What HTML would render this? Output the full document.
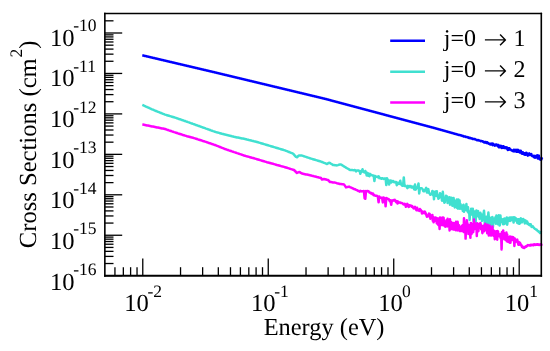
<!DOCTYPE html>
<html><head><meta charset="utf-8"><title>Cross Sections</title>
<style>html,body{margin:0;padding:0;background:#fff}svg{display:block}text{font-family:"Liberation Serif","DejaVu Serif",serif;fill:#000;text-rendering:geometricPrecision}</style></head>
<body>
<svg width="550" height="351" viewBox="0 0 550 351">
<rect x="0" y="0" width="550" height="351" fill="#fff"/>
<g>
<polyline fill="none" stroke="#0000ff" stroke-width="2.5" stroke-linejoin="round" stroke-linecap="butt" points="142.3,55.3 142.8,55.4 143.3,55.5 143.8,55.7 144.3,55.8 144.8,55.9 145.3,56.0 145.8,56.1 146.3,56.2 146.8,56.4 147.3,56.5 147.8,56.6 148.3,56.7 148.8,56.8 149.3,56.9 149.8,57.1 150.3,57.2 150.8,57.3 151.3,57.4 151.8,57.5 152.3,57.7 152.8,57.8 153.3,57.9 153.8,58.0 154.3,58.1 154.8,58.2 155.3,58.4 155.8,58.5 156.3,58.6 156.8,58.7 157.3,58.8 157.8,58.9 158.3,59.1 158.8,59.2 159.3,59.3 159.8,59.4 160.3,59.5 160.8,59.7 161.3,59.8 161.8,59.9 162.3,60.0 162.8,60.1 163.3,60.2 163.8,60.4 164.3,60.5 164.8,60.6 165.3,60.7 165.8,60.8 166.3,60.9 166.8,61.1 167.3,61.2 167.8,61.3 168.3,61.4 168.8,61.5 169.3,61.7 169.8,61.8 170.3,61.9 170.8,62.0 171.3,62.1 171.8,62.2 172.3,62.4 172.8,62.5 173.3,62.6 173.8,62.7 174.3,62.8 174.8,62.9 175.3,63.1 175.8,63.2 176.3,63.3 176.8,63.4 177.3,63.5 177.8,63.7 178.3,63.8 178.8,63.9 179.3,64.0 179.8,64.1 180.3,64.2 180.8,64.4 181.3,64.5 181.8,64.6 182.3,64.7 182.8,64.8 183.3,64.9 183.8,65.1 184.3,65.2 184.8,65.3 185.3,65.4 185.8,65.5 186.3,65.6 186.8,65.8 187.3,65.9 187.8,66.0 188.3,66.1 188.8,66.2 189.3,66.4 189.8,66.5 190.3,66.6 190.8,66.7 191.3,66.8 191.8,66.9 192.3,67.1 192.8,67.2 193.3,67.3 193.8,67.4 194.3,67.5 194.8,67.6 195.3,67.8 195.8,67.9 196.3,68.0 196.8,68.1 197.3,68.2 197.8,68.4 198.3,68.5 198.8,68.6 199.3,68.7 199.8,68.8 200.3,68.9 200.8,69.1 201.3,69.2 201.8,69.3 202.3,69.4 202.8,69.5 203.3,69.6 203.8,69.8 204.3,69.9 204.8,70.0 205.3,70.1 205.8,70.2 206.3,70.4 206.8,70.5 207.3,70.6 207.8,70.7 208.3,70.8 208.8,70.9 209.3,71.1 209.8,71.2 210.3,71.3 210.8,71.4 211.3,71.5 211.8,71.6 212.3,71.8 212.8,71.9 213.3,72.0 213.8,72.1 214.3,72.2 214.8,72.4 215.3,72.5 215.8,72.6 216.3,72.7 216.8,72.8 217.3,73.0 217.8,73.1 218.3,73.2 218.8,73.3 219.3,73.4 219.8,73.6 220.3,73.7 220.8,73.8 221.3,73.9 221.8,74.0 222.3,74.2 222.8,74.3 223.3,74.4 223.8,74.5 224.3,74.6 224.8,74.8 225.3,74.9 225.8,75.0 226.3,75.1 226.8,75.2 227.3,75.4 227.8,75.5 228.3,75.6 228.8,75.7 229.3,75.8 229.8,76.0 230.3,76.1 230.8,76.2 231.3,76.3 231.8,76.4 232.3,76.6 232.8,76.7 233.3,76.8 233.8,76.9 234.3,77.0 234.8,77.2 235.3,77.3 235.8,77.4 236.3,77.5 236.8,77.6 237.3,77.8 237.8,77.9 238.3,78.0 238.8,78.1 239.3,78.2 239.8,78.4 240.3,78.5 240.8,78.6 241.3,78.7 241.8,78.8 242.3,79.0 242.8,79.1 243.3,79.2 243.8,79.3 244.3,79.4 244.8,79.6 245.3,79.7 245.8,79.8 246.3,79.9 246.8,80.0 247.3,80.2 247.8,80.3 248.3,80.4 248.8,80.5 249.3,80.6 249.8,80.8 250.3,80.9 250.8,81.0 251.3,81.1 251.8,81.2 252.3,81.4 252.8,81.5 253.3,81.6 253.8,81.7 254.3,81.8 254.8,82.0 255.3,82.1 255.8,82.2 256.3,82.3 256.8,82.4 257.3,82.6 257.8,82.7 258.3,82.8 258.8,82.9 259.3,83.0 259.8,83.2 260.3,83.3 260.8,83.4 261.3,83.5 261.8,83.6 262.3,83.8 262.8,83.9 263.3,84.0 263.8,84.1 264.3,84.2 264.8,84.4 265.3,84.5 265.8,84.6 266.3,84.7 266.8,84.8 267.3,85.0 267.8,85.1 268.3,85.2 268.8,85.3 269.3,85.4 269.8,85.6 270.3,85.7 270.8,85.8 271.3,85.9 271.8,86.0 272.3,86.2 272.8,86.3 273.3,86.4 273.8,86.5 274.3,86.6 274.8,86.8 275.3,86.9 275.8,87.0 276.3,87.1 276.8,87.2 277.3,87.4 277.8,87.5 278.3,87.6 278.8,87.7 279.3,87.8 279.8,88.0 280.3,88.1 280.8,88.2 281.3,88.3 281.8,88.4 282.3,88.6 282.8,88.7 283.3,88.8 283.8,88.9 284.3,89.0 284.8,89.2 285.3,89.3 285.8,89.4 286.3,89.5 286.8,89.6 287.3,89.8 287.8,89.9 288.3,90.0 288.8,90.1 289.3,90.2 289.8,90.4 290.3,90.5 290.8,90.6 291.3,90.7 291.8,90.8 292.3,91.0 292.8,91.1 293.3,91.2 293.8,91.3 294.3,91.4 294.8,91.6 295.3,91.7 295.8,91.8 296.3,91.9 296.8,92.0 297.3,92.2 297.8,92.3 298.3,92.4 298.8,92.5 299.3,92.6 299.8,92.8 300.3,92.9 300.8,93.0 301.3,93.1 301.8,93.2 302.3,93.4 302.8,93.5 303.3,93.6 303.8,93.7 304.3,93.8 304.8,94.0 305.3,94.1 305.8,94.2 306.3,94.3 306.8,94.4 307.3,94.6 307.8,94.7 308.3,94.8 308.8,94.9 309.3,95.0 309.8,95.2 310.3,95.3 310.8,95.4 311.3,95.5 311.8,95.6 312.3,95.8 312.8,95.9 313.3,96.0 313.8,96.1 314.3,96.2 314.8,96.4 315.3,96.5 315.8,96.6 316.3,96.7 316.8,96.8 317.3,97.0 317.8,97.1 318.3,97.2 318.8,97.3 319.3,97.4 319.8,97.6 320.3,97.7 320.8,97.8 321.3,97.9 321.8,98.0 322.3,98.2 322.8,98.3 323.3,98.4 323.8,98.5 324.3,98.6 324.8,98.8 325.3,98.9 325.8,99.0 326.3,99.1 326.8,99.3 327.3,99.4 327.8,99.5 328.3,99.7 328.8,99.8 329.3,99.9 329.8,100.1 330.3,100.2 330.8,100.4 331.3,100.5 331.8,100.6 332.3,100.8 332.8,100.9 333.3,101.0 333.8,101.2 334.3,101.3 334.8,101.4 335.3,101.6 335.8,101.7 336.3,101.8 336.8,102.0 337.3,102.1 337.8,102.2 338.3,102.4 338.8,102.5 339.3,102.6 339.8,102.8 340.3,102.9 340.8,103.0 341.3,103.2 341.8,103.3 342.3,103.4 342.8,103.6 343.3,103.7 343.8,103.8 344.3,104.0 344.8,104.1 345.3,104.2 345.8,104.4 346.3,104.5 346.8,104.6 347.3,104.8 347.8,104.9 348.3,105.0 348.8,105.2 349.3,105.3 349.8,105.4 350.3,105.6 350.8,105.7 351.3,105.8 351.8,106.0 352.3,106.1 352.8,106.2 353.3,106.4 353.8,106.5 354.3,106.6 354.8,106.8 355.3,106.9 355.8,107.0 356.3,107.2 356.8,107.3 357.3,107.4 357.8,107.6 358.3,107.7 358.8,107.8 359.3,108.0 359.8,108.1 360.3,108.2 360.8,108.4 361.3,108.5 361.8,108.6 362.3,108.8 362.8,108.9 363.3,109.0 363.8,109.2 364.3,109.3 364.8,109.4 365.3,109.6 365.8,109.7 366.3,109.8 366.8,110.0 367.3,110.1 367.8,110.2 368.3,110.4 368.8,110.5 369.3,110.6 369.8,110.8 370.3,110.9 370.8,111.0 371.3,111.2 371.8,111.3 372.3,111.4 372.8,111.6 373.3,111.7 373.8,111.8 374.3,112.0 374.8,112.1 375.3,112.2 375.8,112.4 376.3,112.5 376.8,112.6 377.3,112.8 377.8,112.9 378.3,113.0 378.8,113.2 379.3,113.3 379.8,113.4 380.3,113.6 380.8,113.7 381.3,113.8 381.8,114.0 382.3,114.1 382.8,114.2 383.3,114.4 383.8,114.5 384.3,114.6 384.8,114.8 385.3,114.9 385.8,115.1 386.3,115.2 386.8,115.3 387.3,115.5 387.8,115.6 388.3,115.7 388.8,115.9 389.3,116.0 389.8,116.1 390.3,116.3 390.8,116.4 391.3,116.5 391.8,116.7 392.3,116.8 392.8,116.9 393.3,117.1 393.8,117.2 394.3,117.3 394.8,117.5 395.3,117.6 395.8,117.7 396.3,117.9 396.8,118.0 397.3,118.1 397.8,118.3 398.3,118.4 398.8,118.5 399.3,118.7 399.8,118.8 400.3,118.9 400.8,119.1 401.3,119.2 401.8,119.3 402.3,119.5 402.8,119.6 403.3,119.7 403.8,119.9 404.3,120.0 404.8,120.1 405.3,120.3 405.8,120.4 406.3,120.5 406.8,120.7 407.3,120.8 407.8,120.9 408.3,121.1 408.8,121.2 409.3,121.3 409.8,121.5 410.3,121.6 410.8,121.7 411.3,121.9 411.8,122.0 412.3,122.1 412.8,122.3 413.3,122.4 413.8,122.5 414.3,122.7 414.8,122.8 415.3,122.9 415.8,123.1 416.3,123.2 416.8,123.3 417.3,123.5 417.8,123.6 418.3,123.7 418.8,123.9 419.3,124.0 419.8,124.1 420.3,124.3 420.8,124.4 421.3,124.5 421.8,124.7 422.3,124.8 422.8,124.9 423.3,125.1 423.8,125.2 424.3,125.3 424.8,125.5 425.3,125.6 425.8,125.7 426.3,125.9 426.8,126.0 427.3,126.1 427.8,126.3 428.3,126.4 428.8,126.5 429.3,126.7 429.8,126.8 430.3,126.9 430.8,127.1 431.3,127.2 431.8,127.3 432.3,127.5 432.8,127.6 433.3,127.7 433.8,127.9 434.3,128.0 434.8,128.1 435.3,128.3 435.8,128.4 436.3,128.6 436.8,128.7 437.3,128.8 437.8,129.0 438.3,129.1 438.8,129.3 439.3,129.4 439.8,129.5 440.3,129.7 440.8,129.8 441.3,130.0 441.8,130.1 442.3,130.2 442.8,130.4 443.3,130.5 443.8,130.7 444.3,130.8 444.8,130.9 445.3,131.1 445.8,131.2 446.3,131.4 446.8,131.5 447.3,131.6 447.8,131.8 448.3,131.9 448.8,132.1 449.3,132.2 449.8,132.3 450.3,132.5 450.8,132.6 451.3,132.8 451.8,132.9 452.3,133.0 452.8,133.2 453.3,133.3 453.8,133.5 454.3,133.6 454.8,133.8 455.3,133.9 455.8,134.0 456.3,134.2 456.8,134.3 457.3,134.4 457.8,134.6 458.3,134.8 458.8,134.9 459.3,135.1 459.8,135.1 460.3,135.2 460.8,135.4 461.3,135.6 461.8,135.6 462.3,135.9 462.8,135.9 463.3,136.0 463.8,136.4 464.3,136.5 464.8,136.5 465.3,136.6 465.8,136.9 466.3,137.0 466.8,137.0 467.3,137.2 467.8,137.5 468.3,137.3 468.8,137.9 469.3,137.8 469.8,137.8 470.3,138.2 470.8,138.0 471.3,138.3 471.8,138.6 472.3,138.5 472.8,139.0 473.3,139.0 473.8,138.9 474.3,139.0 474.8,139.1 475.3,139.5 475.8,139.5 476.3,139.8 476.8,140.1 477.3,140.3 477.8,140.0 478.3,140.2 478.8,140.4 479.3,140.5 479.8,140.7 480.3,140.9 480.8,141.2 481.3,141.0 481.8,141.2 482.3,141.4 482.8,141.3 483.3,141.9 483.8,141.8 484.3,142.5 484.8,142.5 485.3,142.0 485.8,142.1 486.3,142.9 486.8,142.8 487.3,142.2 487.8,143.2 488.3,143.0 488.8,143.7 489.3,143.8 489.8,144.2 490.3,144.0 490.8,144.5 491.3,143.6 491.8,143.8 492.3,143.5 492.8,145.1 493.3,143.9 493.8,144.8 494.3,144.8 494.8,145.6 495.3,144.9 495.8,144.5 496.3,145.1 496.8,144.6 497.3,145.2 497.8,146.1 498.3,145.0 498.8,147.2 499.3,146.3 499.8,145.9 500.3,147.3 500.8,145.8 501.3,146.4 501.8,148.0 502.3,146.4 502.8,147.8 503.3,146.3 503.8,147.6 504.3,148.0 504.8,147.0 505.3,147.5 505.8,148.2 506.3,148.4 506.8,147.4 507.3,148.2 507.8,150.0 508.3,148.3 508.8,149.7 509.3,148.2 509.8,149.1 510.3,149.4 510.8,149.7 511.3,150.2 511.8,150.6 512.3,150.5 512.8,150.9 513.3,151.3 513.8,149.8 514.3,151.4 514.8,150.6 515.3,150.0 515.8,149.8 516.3,151.8 516.8,151.6 517.3,149.9 517.8,151.7 518.3,150.0 518.8,151.3 519.3,152.1 519.8,152.5 520.3,150.9 520.8,150.7 521.3,152.7 521.8,153.6 522.3,153.7 522.8,152.3 523.3,153.2 523.8,153.9 524.3,154.5 524.8,153.3 525.3,154.8 525.8,153.0 526.3,152.8 526.8,153.2 527.3,154.9 527.8,155.6 528.3,154.3 528.8,155.2 529.3,153.4 529.8,154.8 530.3,154.7 530.8,154.8 531.3,154.1 531.8,155.8 532.3,156.1 532.8,156.1 533.3,156.6 533.8,155.7 534.3,157.3 534.8,156.4 535.3,157.7 535.8,156.1 536.3,157.3 536.8,155.6 537.3,155.3 537.8,158.6 538.3,156.7 538.8,155.6 539.3,157.9 539.8,159.2 540.3,158.7 540.8,159.7 541.3,159.6 541.8,158.0 542.3,157.3"/>
<polyline fill="none" stroke="#40e0d0" stroke-width="2.5" stroke-linejoin="round" stroke-linecap="butt" points="142.3,104.9 143.0,105.2 144.0,105.7 145.0,106.1 146.0,106.6 147.0,107.0 148.0,107.5 149.0,107.9 150.0,108.4 151.0,108.8 152.0,109.3 153.0,109.7 154.0,110.2 155.0,110.6 156.0,111.0 157.0,111.4 158.0,111.8 159.0,112.2 160.0,112.6 161.0,113.0 162.0,113.4 163.0,113.8 164.0,114.2 165.0,114.6 166.0,114.9 167.0,115.2 168.0,115.5 169.0,115.8 170.0,116.1 171.0,116.4 172.0,116.7 173.0,117.0 174.0,117.3 175.0,117.6 176.0,117.9 177.0,118.3 178.0,118.6 179.0,119.0 180.0,119.3 181.0,119.6 182.0,120.0 183.0,120.3 184.0,120.7 185.0,121.0 186.0,121.4 187.0,121.7 188.0,122.1 189.0,122.4 190.0,122.8 191.0,123.2 192.0,123.5 193.0,123.9 194.0,124.2 195.0,124.6 196.0,125.0 197.0,125.3 198.0,125.7 199.0,126.0 200.0,126.4 201.0,126.8 202.0,127.1 203.0,127.5 204.0,127.8 205.0,128.2 206.0,128.6 207.0,128.9 208.0,129.3 209.0,129.6 210.0,130.0 211.0,130.4 212.0,130.7 213.0,131.1 214.0,131.4 215.0,131.8 216.0,132.1 217.0,132.4 218.0,132.6 219.0,132.9 220.0,133.2 221.0,133.5 222.0,133.8 223.0,134.0 224.0,134.3 225.0,134.6 226.0,134.8 227.0,135.1 228.0,135.3 229.0,135.6 230.0,135.8 231.0,136.0 232.0,136.3 233.0,136.5 234.0,136.8 235.0,137.0 236.0,137.2 237.0,137.4 238.0,137.6 239.0,137.8 240.0,138.0 241.0,138.2 242.0,138.4 243.0,138.6 244.0,138.8 245.0,139.0 246.0,139.2 247.0,139.5 248.0,139.7 249.0,140.0 250.0,140.2 251.0,140.4 252.0,140.7 253.0,140.9 254.0,141.2 255.0,141.4 256.0,141.7 257.0,142.0 258.0,142.3 259.0,142.6 260.0,142.9 261.0,143.2 262.0,143.5 263.0,143.8 264.0,144.1 265.0,144.4 266.0,144.7 267.0,145.0 268.0,145.3 269.0,145.6 270.0,145.9 271.0,146.2 272.0,146.5 273.0,146.8 274.0,147.1 275.0,147.4 276.0,147.7 277.0,148.0 278.0,148.3 279.0,148.6 280.0,148.9 281.0,149.2 282.0,149.5 283.0,149.8 284.0,150.1 285.0,150.4 286.0,150.8 287.0,151.2 288.0,151.6 289.0,152.0 290.0,152.4 291.0,152.8 292.0,153.2 293.0,153.6 294.0,154.7 295.0,155.8 296.0,156.9 297.0,157.2 298.0,156.3 299.0,155.4 300.0,155.5 301.0,155.5 302.0,155.6 303.0,155.9 304.0,156.3 305.0,156.6 306.0,156.9 307.0,157.3 308.0,157.6 309.0,157.9 310.0,158.3 311.0,158.6 312.0,158.9 313.0,159.2 314.0,159.5 315.0,159.8 316.0,160.1 317.0,160.4 318.0,160.7 319.0,161.0 320.0,161.3 321.0,161.6 322.0,162.0 323.0,162.4 324.0,162.8 325.0,163.2 326.0,163.6 327.0,164.0 328.0,163.4 329.0,162.8 330.0,163.0 331.0,163.7 332.0,164.3 333.0,165.0 334.0,165.1 335.0,165.2 336.0,165.3 337.0,165.4 338.0,165.1 339.0,164.7 340.0,164.4 341.0,164.5 342.0,165.1 343.0,165.7 344.0,166.4 345.0,167.0 346.0,167.6 347.0,168.2 348.0,168.8 349.0,169.4 350.0,170.0 351.0,170.0 352.0,170.1 352.7,170.1 353.4,170.3 354.1,170.1 354.8,170.1 355.5,170.6 356.2,171.4 356.9,170.4 357.6,170.6 358.3,170.4 359.0,170.8 359.7,171.3 360.4,173.8 361.1,171.1 361.8,171.6 362.5,169.3 363.2,171.7 363.9,172.1 364.6,172.5 365.3,171.0 366.0,172.5 366.7,175.4 367.4,172.9 368.1,175.8 368.8,173.8 369.5,176.2 370.2,174.0 370.9,175.0 371.6,175.0 372.3,175.4 373.0,175.5 373.7,175.7 374.4,181.1 375.1,176.0 375.8,176.5 376.5,176.7 377.2,176.7 377.9,177.3 378.6,176.3 379.3,178.1 380.0,177.8 380.7,178.2 381.4,178.8 382.1,178.3 382.8,178.2 383.5,179.0 384.2,178.6 384.9,178.6 385.6,178.5 386.3,185.1 387.0,178.3 387.7,179.8 388.4,180.5 389.1,184.6 389.8,180.7 390.5,180.5 391.2,182.5 391.9,180.8 392.6,181.6 393.3,181.1 394.0,182.2 394.7,182.2 395.4,182.0 396.1,182.0 396.8,185.3 397.5,182.7 398.2,182.9 398.9,183.9 399.6,182.9 400.3,180.7 401.0,184.5 401.7,183.8 402.4,185.8 403.1,185.1 403.8,177.4 404.5,186.1 405.2,185.5 405.9,186.0 406.6,186.4 407.3,188.1 408.0,185.9 408.7,187.3 409.4,186.1 410.1,186.2 410.8,186.1 411.5,187.6 412.2,187.6 412.9,186.6 413.6,187.9 414.3,189.4 415.0,184.6 415.7,189.7 416.4,187.5 417.1,187.9 417.8,186.7 418.5,183.4 419.2,193.4 419.9,188.2 420.6,188.2 421.3,188.2 422.0,188.4 422.7,189.4 423.4,191.3 424.1,191.3 424.8,190.2 425.5,189.3 426.2,187.8 426.9,192.5 427.6,192.3 428.3,189.1 429.0,192.9 429.7,193.6 430.4,194.8 431.1,194.1 431.8,193.8 432.0,192.5 432.4,190.9 432.8,191.3 433.2,195.4 433.6,193.9 434.0,199.3 434.4,192.0 434.8,193.1 435.2,195.9 435.6,191.6 436.0,192.0 436.4,194.1 436.8,191.2 437.2,196.3 437.6,195.7 438.0,195.4 438.4,198.8 438.8,197.2 439.2,198.0 439.6,195.2 440.0,193.2 440.4,193.9 440.8,195.5 441.2,194.9 441.6,196.0 442.0,200.7 442.4,198.4 442.8,191.8 443.2,195.9 443.6,199.7 444.0,200.6 444.4,202.8 444.8,202.3 445.2,198.8 445.6,199.0 446.0,195.7 446.4,199.1 446.8,196.3 447.2,196.6 447.6,203.0 448.0,198.8 448.4,198.7 448.8,202.1 449.2,201.3 449.6,197.2 450.0,204.7 450.4,198.6 450.8,198.4 451.2,199.5 451.6,197.7 452.0,203.3 452.4,205.8 452.8,204.7 453.2,201.1 453.6,198.1 454.0,201.5 454.4,206.1 454.8,207.4 455.2,203.5 455.6,204.8 456.0,200.8 456.4,201.0 456.8,199.4 457.2,207.9 457.6,203.1 458.0,208.7 458.4,199.6 458.8,207.3 459.2,205.6 459.6,200.6 460.0,208.8 460.4,204.0 460.8,207.3 461.2,207.6 461.6,207.6 462.0,208.7 462.4,205.6 462.8,210.9 463.2,206.6 463.6,204.8 464.0,211.8 464.4,206.8 464.8,207.0 465.2,209.7 465.6,210.0 466.0,206.6 466.4,204.1 466.8,209.5 467.2,209.8 467.6,211.4 468.0,207.2 468.4,212.7 468.8,212.5 469.2,211.5 469.6,220.0 470.0,214.2 470.4,211.3 470.8,214.4 471.2,208.7 471.6,212.3 472.0,214.5 472.4,214.5 472.8,208.7 473.2,214.1 473.6,221.6 474.0,215.5 474.4,211.5 474.8,213.2 475.2,213.8 475.6,223.3 476.0,214.1 476.4,210.5 476.8,211.6 477.2,214.9 477.6,211.4 478.0,211.1 478.4,216.7 478.8,216.9 479.2,214.6 479.6,218.9 480.0,216.5 480.4,212.8 480.8,216.9 481.2,216.2 481.6,214.4 482.0,220.8 482.4,217.6 482.8,217.6 483.2,216.5 483.6,213.6 484.0,210.7 484.4,215.5 484.8,224.5 485.2,218.5 485.6,218.1 486.0,222.7 486.4,216.8 486.8,220.2 487.2,222.4 487.6,227.2 488.0,217.3 488.4,212.6 488.8,217.3 489.2,222.5 489.6,223.1 490.0,217.7 490.4,218.4 490.8,225.7 491.2,220.6 491.6,223.2 492.0,217.2 492.4,217.1 492.8,227.7 493.2,224.4 493.6,222.1 494.0,221.3 494.4,218.4 494.8,218.8 495.2,220.5 495.6,217.1 496.0,223.8 496.4,215.6 496.8,220.5 497.2,221.7 497.6,218.0 498.0,224.2 498.4,220.2 498.8,215.3 499.2,218.4 499.6,225.5 500.0,224.3 500.4,215.4 500.8,220.1 501.2,221.2 501.6,221.8 502.0,222.2 502.4,219.5 502.8,219.8 503.2,224.3 503.6,219.0 504.0,220.0 504.4,223.9 504.8,218.4 505.2,222.7 505.6,223.3 506.0,220.9 506.4,221.8 506.8,217.5 507.2,224.7 507.6,221.6 508.0,220.9 508.4,220.9 508.8,219.6 509.2,217.8 509.6,220.8 510.0,221.0 510.4,217.6 510.8,220.4 511.2,218.6 511.6,217.7 512.0,217.3 512.4,217.5 512.8,218.5 513.2,219.8 513.6,222.6 514.0,217.2 514.4,220.7 514.8,217.4 515.2,220.5 515.6,219.1 516.0,218.3 516.4,220.4 516.8,219.6 517.2,222.8 517.6,221.3 518.0,219.2 518.4,223.6 518.8,219.3 519.2,223.8 519.6,223.4 520.0,223.3 520.4,219.1 520.8,218.3 521.2,218.9 521.6,222.3 522.0,222.2 522.4,220.1 522.8,221.2 523.2,219.1 523.6,220.3 524.0,221.0 524.4,220.0 524.8,223.4 525.2,221.1 525.6,220.5 526.0,223.0 526.4,221.3 526.8,221.7 527.2,221.6 527.6,224.0 528.0,223.2 528.4,223.7 528.8,224.1 529.2,225.0 529.6,224.2 530.0,225.3 530.4,225.0 530.8,224.3 531.2,225.7 531.6,226.9 532.0,226.4 532.4,226.5 532.8,226.3 533.2,226.9 533.6,227.6 534.0,227.9 534.4,228.3 534.8,228.7 535.2,229.0 535.6,229.2 536.0,229.6 536.4,229.5 536.8,229.9 537.2,230.3 537.6,231.0 538.0,230.9 538.4,231.2 538.8,231.9 539.2,231.9 539.6,231.8 540.0,233.0 540.4,232.4 540.8,232.2 541.2,232.3 541.6,232.6 542.0,232.6"/>
<polyline fill="none" stroke="#ff00ff" stroke-width="2.5" stroke-linejoin="round" stroke-linecap="butt" points="142.3,124.5 143.0,124.6 144.0,124.8 145.0,125.0 146.0,125.2 147.0,125.4 148.0,125.6 149.0,125.8 150.0,126.0 151.0,126.2 152.0,126.4 153.0,126.6 154.0,126.8 155.0,127.0 156.0,127.2 157.0,127.4 158.0,127.6 159.0,127.8 160.0,128.0 161.0,128.2 162.0,128.4 163.0,128.6 164.0,128.8 165.0,129.0 166.0,129.3 167.0,129.7 168.0,130.0 169.0,130.4 170.0,130.7 171.0,131.0 172.0,131.4 173.0,131.7 174.0,132.1 175.0,132.4 176.0,132.7 177.0,133.0 178.0,133.4 179.0,133.7 180.0,134.0 181.0,134.3 182.0,134.6 183.0,135.0 184.0,135.3 185.0,135.6 186.0,135.9 187.0,136.2 188.0,136.4 189.0,136.7 190.0,137.0 191.0,137.3 192.0,137.6 193.0,137.8 194.0,138.1 195.0,138.4 196.0,138.7 197.0,139.0 198.0,139.4 199.0,139.7 200.0,140.0 201.0,140.3 202.0,140.6 203.0,141.0 204.0,141.3 205.0,141.6 206.0,141.9 207.0,142.3 208.0,142.6 209.0,143.0 210.0,143.3 211.0,143.6 212.0,144.0 213.0,144.3 214.0,144.7 215.0,145.0 216.0,145.4 217.0,145.8 218.0,146.2 219.0,146.6 220.0,147.0 221.0,147.4 222.0,147.8 223.0,148.2 224.0,148.6 225.0,149.0 226.0,149.3 227.0,149.7 228.0,150.0 229.0,150.4 230.0,150.7 231.0,151.0 232.0,151.4 233.0,151.7 234.0,152.1 235.0,152.4 236.0,152.7 237.0,153.1 238.0,153.4 239.0,153.8 240.0,154.1 241.0,154.4 242.0,154.8 243.0,155.1 244.0,155.5 245.0,155.8 246.0,156.1 247.0,156.4 248.0,156.6 249.0,156.9 250.0,157.2 251.0,157.5 252.0,157.8 253.0,158.0 254.0,158.3 255.0,158.6 256.0,158.9 257.0,159.2 258.0,159.5 259.0,159.8 260.0,160.1 261.0,160.4 262.0,160.7 263.0,161.0 264.0,161.3 265.0,161.6 266.0,161.9 267.0,162.2 268.0,162.4 269.0,162.7 270.0,163.0 271.0,163.3 272.0,163.6 273.0,163.8 274.0,164.1 275.0,164.4 276.0,164.7 277.0,165.0 278.0,165.2 279.0,165.5 280.0,165.8 281.0,166.1 282.0,166.4 283.0,166.6 284.0,166.9 285.0,167.2 286.0,167.5 287.0,167.8 288.0,168.1 289.0,168.4 290.0,168.8 291.0,169.1 292.0,169.4 293.0,169.7 294.0,170.0 295.0,171.0 296.0,172.0 297.0,173.0 298.0,172.5 299.0,172.0 300.0,172.2 301.0,172.9 302.0,173.6 303.0,173.8 304.0,174.0 305.0,174.2 306.0,174.4 307.0,174.6 308.0,174.8 309.0,175.0 310.0,175.2 311.0,175.4 312.0,175.7 313.0,175.9 314.0,176.2 315.0,176.4 316.0,176.7 317.0,177.0 318.0,177.2 319.0,177.5 320.0,177.7 321.0,178.0 322.0,179.6 323.0,179.3 324.0,179.0 325.0,179.2 326.0,179.5 327.0,179.8 328.0,180.0 329.0,181.0 330.0,182.0 331.0,182.1 332.0,182.2 333.0,182.4 334.0,182.5 335.0,182.6 336.0,182.9 337.0,183.2 338.0,183.4 339.0,183.7 340.0,184.0 341.0,184.1 342.0,184.2 343.0,184.3 344.0,184.4 345.0,185.9 346.0,187.4 347.0,187.1 348.0,186.9 349.0,186.6 350.0,187.1 351.0,187.5 352.0,188.0 352.7,188.3 353.4,188.7 354.1,189.1 354.8,189.2 355.5,189.5 356.2,189.9 356.9,190.2 357.6,190.5 358.3,191.0 359.0,190.9 359.7,191.6 360.4,190.8 361.1,191.1 361.8,191.4 362.5,191.2 363.2,191.3 363.9,191.0 364.6,198.2 365.3,198.8 366.0,191.0 366.7,191.4 367.4,190.9 368.1,191.3 368.8,191.5 369.5,192.6 370.2,192.6 370.9,193.4 371.6,193.1 372.3,194.1 373.0,193.6 373.7,195.2 374.4,195.0 375.1,195.8 375.8,195.8 376.5,195.8 377.2,196.0 377.9,196.8 378.6,202.3 379.3,196.5 380.0,197.4 380.7,197.8 381.4,197.7 382.1,197.7 382.8,202.4 383.5,197.5 384.2,198.2 384.9,198.5 385.6,206.3 386.3,198.0 387.0,198.4 387.7,199.1 388.4,199.0 389.1,199.7 389.8,201.2 390.5,200.2 391.2,204.8 391.9,200.4 392.6,200.8 393.3,200.1 394.0,200.5 394.7,199.7 395.4,201.1 396.1,202.1 396.8,201.0 397.5,203.5 398.2,201.6 398.9,202.7 399.6,202.6 400.3,202.5 401.0,203.1 401.7,203.1 402.4,203.2 403.1,204.1 403.8,204.5 404.5,203.7 405.2,204.3 405.9,206.8 406.6,206.0 407.3,203.9 408.0,205.4 408.7,206.9 409.4,205.2 410.1,205.4 410.8,205.5 411.5,206.6 412.2,206.0 412.9,207.3 413.6,208.4 414.3,208.2 415.0,206.8 415.7,208.8 416.4,210.1 417.1,207.8 417.8,210.1 418.5,209.8 419.2,210.9 419.9,209.0 420.6,209.8 421.3,210.7 422.0,213.5 422.7,211.7 423.4,211.9 424.1,213.2 424.8,211.6 425.5,212.9 426.2,214.6 426.9,216.7 427.6,215.7 428.3,216.1 429.0,213.6 429.7,213.9 430.4,218.7 431.1,216.5 431.8,215.4 432.0,217.9 432.4,215.1 432.8,220.8 433.2,219.1 433.6,222.3 434.0,217.4 434.4,219.8 434.8,220.9 435.2,218.5 435.6,217.5 436.0,218.1 436.4,218.8 436.8,223.5 437.2,218.3 437.6,218.8 438.0,219.5 438.4,225.1 438.8,218.4 439.2,222.9 439.6,229.0 440.0,217.4 440.4,224.4 440.8,218.5 441.2,223.2 441.6,219.7 442.0,225.2 442.4,217.6 442.8,218.5 443.2,219.3 443.6,217.6 444.0,225.4 444.4,223.8 444.8,222.1 445.2,226.7 445.6,225.6 446.0,222.6 446.4,220.3 446.8,222.0 447.2,226.5 447.6,218.7 448.0,221.6 448.4,226.1 448.8,225.0 449.2,223.3 449.6,230.4 450.0,219.3 450.4,223.1 450.8,226.5 451.2,222.1 451.6,229.1 452.0,226.1 452.4,224.5 452.8,227.2 453.2,223.1 453.6,229.6 454.0,224.0 454.4,223.3 454.8,227.3 455.2,225.8 455.6,230.2 456.0,221.7 456.4,222.8 456.8,225.9 457.2,230.4 457.6,221.8 458.0,226.6 458.4,229.1 458.8,225.1 459.2,225.6 459.6,231.1 460.0,226.9 460.4,228.6 460.8,228.5 461.2,231.0 461.6,227.2 462.0,225.7 462.4,228.5 462.8,225.1 463.2,230.4 463.6,232.0 464.0,218.3 464.4,229.9 464.8,227.6 465.2,226.7 465.6,238.6 466.0,225.6 466.4,224.0 466.8,220.3 467.2,222.4 467.6,231.1 468.0,224.5 468.4,234.0 468.8,227.3 469.2,225.3 469.6,232.0 470.0,231.0 470.4,237.7 470.8,223.1 471.2,226.8 471.6,233.9 472.0,223.9 472.4,229.4 472.8,230.7 473.2,232.1 473.6,227.3 474.0,219.6 474.4,224.1 474.8,229.0 475.2,223.5 475.6,228.3 476.0,228.9 476.4,223.7 476.8,235.9 477.2,223.2 477.6,228.6 478.0,226.0 478.4,231.2 478.8,226.2 479.2,223.9 479.6,225.6 480.0,227.6 480.4,222.9 480.8,224.9 481.2,229.3 481.6,227.5 482.0,229.1 482.4,233.2 482.8,229.3 483.2,225.7 483.6,230.3 484.0,231.3 484.4,230.6 484.8,225.6 485.2,223.7 485.6,226.3 486.0,228.4 486.4,230.0 486.8,225.2 487.2,233.2 487.6,224.8 488.0,227.7 488.4,228.8 488.8,235.5 489.2,234.9 489.6,225.6 490.0,227.0 490.4,229.9 490.8,228.1 491.2,235.6 491.6,230.6 492.0,229.1 492.4,226.5 492.8,233.1 493.2,235.2 493.6,235.7 494.0,230.8 494.4,231.1 494.8,239.2 495.2,232.4 495.6,234.7 496.0,232.2 496.4,231.2 496.8,236.8 497.2,239.7 497.6,231.0 498.0,231.5 498.4,234.7 498.8,235.1 499.2,235.7 499.6,236.5 500.0,234.5 500.4,234.0 500.8,238.6 501.2,236.3 501.6,249.4 502.0,232.1 502.4,238.6 502.8,232.0 503.2,230.4 503.6,238.5 504.0,233.0 504.4,239.2 504.8,234.6 505.2,234.8 505.6,240.0 506.0,239.1 506.4,232.6 506.8,241.2 507.2,234.5 507.6,239.0 508.0,241.7 508.4,240.9 508.8,237.9 509.2,242.2 509.6,242.5 510.0,236.4 510.4,242.8 510.8,239.5 511.2,237.6 511.6,237.6 512.0,236.8 512.4,239.4 512.8,239.9 513.2,237.3 513.6,239.4 514.0,238.8 514.4,245.9 514.8,238.6 515.2,241.4 515.6,241.8 516.0,240.3 516.4,240.5 516.8,240.4 517.2,239.6 517.6,241.6 518.0,243.1 518.4,244.7 518.8,242.1 519.2,242.4 519.6,243.0 520.0,242.8 520.4,244.9 520.8,244.4 521.2,244.9 521.6,245.6 522.0,247.0 522.4,246.3 522.8,246.9 523.2,247.9 523.6,247.8 524.0,247.9 524.4,248.0 524.8,247.0 525.2,246.7 525.6,246.4 526.0,246.8 526.4,246.6 526.8,246.3 527.2,245.5 527.6,245.7 528.0,245.0 528.4,245.3 528.8,245.3 529.2,245.2 529.6,245.6 530.0,245.4 530.4,244.9 530.8,245.5 531.2,245.2 531.6,244.7 532.0,244.9 532.4,244.7 532.8,245.2 533.2,245.1 533.6,244.6 534.0,245.1 534.4,244.3 534.8,244.5 535.2,244.4 535.6,244.6 536.0,244.9 536.4,244.8 536.8,244.2 537.2,244.3 537.6,244.8 538.0,244.4 538.4,244.8 538.8,244.6 539.2,245.0 539.6,244.7 540.0,244.4 540.4,244.3 540.8,244.8 541.2,244.3 541.6,244.7 542.0,244.1"/>
</g>
<g stroke="#000" fill="none" stroke-linecap="butt">
<line x1="104.85" y1="12.85" x2="104.85" y2="276.80" stroke-width="1.6"/>
<line x1="104.05" y1="275.80" x2="542.10" y2="275.80" stroke-width="2"/>
<line x1="541.30" y1="12.85" x2="541.30" y2="276.80" stroke-width="1.6"/>
<line x1="104.05" y1="13.60" x2="542.10" y2="13.60" stroke-width="1.5"/>
<line x1="114.94" y1="275.70" x2="114.94" y2="267.20" stroke-width="1.3"/>
<line x1="123.34" y1="275.70" x2="123.34" y2="267.20" stroke-width="1.3"/>
<line x1="130.61" y1="275.70" x2="130.61" y2="267.20" stroke-width="1.3"/>
<line x1="137.03" y1="275.70" x2="137.03" y2="267.20" stroke-width="1.3"/>
<line x1="142.77" y1="275.70" x2="142.77" y2="258.50" stroke-width="1.3"/>
<line x1="180.54" y1="275.70" x2="180.54" y2="267.20" stroke-width="1.3"/>
<line x1="202.64" y1="275.70" x2="202.64" y2="267.20" stroke-width="1.3"/>
<line x1="218.32" y1="275.70" x2="218.32" y2="267.20" stroke-width="1.3"/>
<line x1="230.48" y1="275.70" x2="230.48" y2="267.20" stroke-width="1.3"/>
<line x1="240.41" y1="275.70" x2="240.41" y2="267.20" stroke-width="1.3"/>
<line x1="248.81" y1="275.70" x2="248.81" y2="267.20" stroke-width="1.3"/>
<line x1="256.09" y1="275.70" x2="256.09" y2="267.20" stroke-width="1.3"/>
<line x1="262.51" y1="275.70" x2="262.51" y2="267.20" stroke-width="1.3"/>
<line x1="268.25" y1="275.70" x2="268.25" y2="258.50" stroke-width="1.3"/>
<line x1="306.02" y1="275.70" x2="306.02" y2="267.20" stroke-width="1.3"/>
<line x1="328.12" y1="275.70" x2="328.12" y2="267.20" stroke-width="1.3"/>
<line x1="343.79" y1="275.70" x2="343.79" y2="267.20" stroke-width="1.3"/>
<line x1="355.95" y1="275.70" x2="355.95" y2="267.20" stroke-width="1.3"/>
<line x1="365.89" y1="275.70" x2="365.89" y2="267.20" stroke-width="1.3"/>
<line x1="374.29" y1="275.70" x2="374.29" y2="267.20" stroke-width="1.3"/>
<line x1="381.57" y1="275.70" x2="381.57" y2="267.20" stroke-width="1.3"/>
<line x1="387.99" y1="275.70" x2="387.99" y2="267.20" stroke-width="1.3"/>
<line x1="393.73" y1="275.70" x2="393.73" y2="258.50" stroke-width="1.3"/>
<line x1="431.50" y1="275.70" x2="431.50" y2="267.20" stroke-width="1.3"/>
<line x1="453.60" y1="275.70" x2="453.60" y2="267.20" stroke-width="1.3"/>
<line x1="469.27" y1="275.70" x2="469.27" y2="267.20" stroke-width="1.3"/>
<line x1="481.43" y1="275.70" x2="481.43" y2="267.20" stroke-width="1.3"/>
<line x1="491.37" y1="275.70" x2="491.37" y2="267.20" stroke-width="1.3"/>
<line x1="499.77" y1="275.70" x2="499.77" y2="267.20" stroke-width="1.3"/>
<line x1="507.04" y1="275.70" x2="507.04" y2="267.20" stroke-width="1.3"/>
<line x1="513.46" y1="275.70" x2="513.46" y2="267.20" stroke-width="1.3"/>
<line x1="519.20" y1="275.70" x2="519.20" y2="258.50" stroke-width="1.3"/>
<line x1="105.00" y1="275.70" x2="122.20" y2="275.70" stroke-width="1.3"/>
<line x1="105.00" y1="263.52" x2="113.50" y2="263.52" stroke-width="1.3"/>
<line x1="105.00" y1="256.40" x2="113.50" y2="256.40" stroke-width="1.3"/>
<line x1="105.00" y1="251.35" x2="113.50" y2="251.35" stroke-width="1.3"/>
<line x1="105.00" y1="247.43" x2="113.50" y2="247.43" stroke-width="1.3"/>
<line x1="105.00" y1="244.22" x2="113.50" y2="244.22" stroke-width="1.3"/>
<line x1="105.00" y1="241.52" x2="113.50" y2="241.52" stroke-width="1.3"/>
<line x1="105.00" y1="239.17" x2="113.50" y2="239.17" stroke-width="1.3"/>
<line x1="105.00" y1="237.10" x2="113.50" y2="237.10" stroke-width="1.3"/>
<line x1="105.00" y1="235.25" x2="122.20" y2="235.25" stroke-width="1.3"/>
<line x1="105.00" y1="223.07" x2="113.50" y2="223.07" stroke-width="1.3"/>
<line x1="105.00" y1="215.95" x2="113.50" y2="215.95" stroke-width="1.3"/>
<line x1="105.00" y1="210.90" x2="113.50" y2="210.90" stroke-width="1.3"/>
<line x1="105.00" y1="206.98" x2="113.50" y2="206.98" stroke-width="1.3"/>
<line x1="105.00" y1="203.77" x2="113.50" y2="203.77" stroke-width="1.3"/>
<line x1="105.00" y1="201.07" x2="113.50" y2="201.07" stroke-width="1.3"/>
<line x1="105.00" y1="198.72" x2="113.50" y2="198.72" stroke-width="1.3"/>
<line x1="105.00" y1="196.65" x2="113.50" y2="196.65" stroke-width="1.3"/>
<line x1="105.00" y1="194.80" x2="122.20" y2="194.80" stroke-width="1.3"/>
<line x1="105.00" y1="182.62" x2="113.50" y2="182.62" stroke-width="1.3"/>
<line x1="105.00" y1="175.50" x2="113.50" y2="175.50" stroke-width="1.3"/>
<line x1="105.00" y1="170.45" x2="113.50" y2="170.45" stroke-width="1.3"/>
<line x1="105.00" y1="166.53" x2="113.50" y2="166.53" stroke-width="1.3"/>
<line x1="105.00" y1="163.32" x2="113.50" y2="163.32" stroke-width="1.3"/>
<line x1="105.00" y1="160.62" x2="113.50" y2="160.62" stroke-width="1.3"/>
<line x1="105.00" y1="158.27" x2="113.50" y2="158.27" stroke-width="1.3"/>
<line x1="105.00" y1="156.20" x2="113.50" y2="156.20" stroke-width="1.3"/>
<line x1="105.00" y1="154.35" x2="122.20" y2="154.35" stroke-width="1.3"/>
<line x1="105.00" y1="142.17" x2="113.50" y2="142.17" stroke-width="1.3"/>
<line x1="105.00" y1="135.05" x2="113.50" y2="135.05" stroke-width="1.3"/>
<line x1="105.00" y1="130.00" x2="113.50" y2="130.00" stroke-width="1.3"/>
<line x1="105.00" y1="126.08" x2="113.50" y2="126.08" stroke-width="1.3"/>
<line x1="105.00" y1="122.87" x2="113.50" y2="122.87" stroke-width="1.3"/>
<line x1="105.00" y1="120.17" x2="113.50" y2="120.17" stroke-width="1.3"/>
<line x1="105.00" y1="117.82" x2="113.50" y2="117.82" stroke-width="1.3"/>
<line x1="105.00" y1="115.75" x2="113.50" y2="115.75" stroke-width="1.3"/>
<line x1="105.00" y1="113.90" x2="122.20" y2="113.90" stroke-width="1.3"/>
<line x1="105.00" y1="101.72" x2="113.50" y2="101.72" stroke-width="1.3"/>
<line x1="105.00" y1="94.60" x2="113.50" y2="94.60" stroke-width="1.3"/>
<line x1="105.00" y1="89.55" x2="113.50" y2="89.55" stroke-width="1.3"/>
<line x1="105.00" y1="85.63" x2="113.50" y2="85.63" stroke-width="1.3"/>
<line x1="105.00" y1="82.42" x2="113.50" y2="82.42" stroke-width="1.3"/>
<line x1="105.00" y1="79.72" x2="113.50" y2="79.72" stroke-width="1.3"/>
<line x1="105.00" y1="77.37" x2="113.50" y2="77.37" stroke-width="1.3"/>
<line x1="105.00" y1="75.30" x2="113.50" y2="75.30" stroke-width="1.3"/>
<line x1="105.00" y1="73.45" x2="122.20" y2="73.45" stroke-width="1.3"/>
<line x1="105.00" y1="61.27" x2="113.50" y2="61.27" stroke-width="1.3"/>
<line x1="105.00" y1="54.15" x2="113.50" y2="54.15" stroke-width="1.3"/>
<line x1="105.00" y1="49.10" x2="113.50" y2="49.10" stroke-width="1.3"/>
<line x1="105.00" y1="45.18" x2="113.50" y2="45.18" stroke-width="1.3"/>
<line x1="105.00" y1="41.97" x2="113.50" y2="41.97" stroke-width="1.3"/>
<line x1="105.00" y1="39.27" x2="113.50" y2="39.27" stroke-width="1.3"/>
<line x1="105.00" y1="36.92" x2="113.50" y2="36.92" stroke-width="1.3"/>
<line x1="105.00" y1="34.85" x2="113.50" y2="34.85" stroke-width="1.3"/>
<line x1="105.00" y1="33.00" x2="122.20" y2="33.00" stroke-width="1.3"/>
<line x1="105.00" y1="20.82" x2="113.50" y2="20.82" stroke-width="1.3"/>
</g>
<g font-size="24">
<text x="50.0" y="289.5" font-size="24.6">10</text>
<text x="73.3" y="275.0" font-size="17.5">-16</text>
<text x="50.0" y="248.9" font-size="24.6">10</text>
<text x="73.3" y="234.4" font-size="17.5">-15</text>
<text x="50.0" y="208.3" font-size="24.6">10</text>
<text x="73.3" y="193.8" font-size="17.5">-14</text>
<text x="50.0" y="167.7" font-size="24.6">10</text>
<text x="73.3" y="153.2" font-size="17.5">-13</text>
<text x="50.0" y="127.0" font-size="24.6">10</text>
<text x="73.3" y="112.5" font-size="17.5">-12</text>
<text x="50.0" y="86.4" font-size="24.6">10</text>
<text x="73.3" y="71.9" font-size="17.5">-11</text>
<text x="50.0" y="45.8" font-size="24.6">10</text>
<text x="73.3" y="31.3" font-size="17.5">-10</text>
<text x="124.3" y="311.4" font-size="24.6">10</text>
<text x="147.5" y="296.5" font-size="17.5">-2</text>
<text x="250.9" y="311.4" font-size="24.6">10</text>
<text x="274.3" y="296.5" font-size="17.5">-1</text>
<text x="378.3" y="311.4" font-size="24.6">10</text>
<text x="402.0" y="296.5" font-size="17.5">0</text>
<text x="504.7" y="311.4" font-size="24.6">10</text>
<text x="529.2" y="296.5" font-size="17.5">1</text>
<text x="324.1" y="335.3" text-anchor="middle" font-size="24.4">Energy (eV)</text>
<text transform="translate(35.8,248.2) rotate(-90)" font-size="24.6"><tspan>Cross Sections (cm</tspan><tspan font-size="17.5" dx="0.8" dy="-14.3">2</tspan><tspan dy="14.3">)</tspan></text>
<line x1="390.2" y1="40.8" x2="425" y2="40.8" stroke="#0000ff" stroke-width="2.4"/>
<text y="46.3"><tspan x="443.8">j=0 </tspan><tspan x="483.2" dy="3.1" font-size="29" style="font-family:'DejaVu Sans',sans-serif;font-weight:200">→</tspan><tspan x="507.5" dy="-3.1"> 1</tspan></text>
<line x1="390.2" y1="71.7" x2="425" y2="71.7" stroke="#40e0d0" stroke-width="2.4"/>
<text y="77.2"><tspan x="443.8">j=0 </tspan><tspan x="483.2" dy="3.1" font-size="29" style="font-family:'DejaVu Sans',sans-serif;font-weight:200">→</tspan><tspan x="507.5" dy="-3.1"> 2</tspan></text>
<line x1="390.2" y1="102.5" x2="425" y2="102.5" stroke="#ff00ff" stroke-width="2.4"/>
<text y="108.0"><tspan x="443.8">j=0 </tspan><tspan x="483.2" dy="3.1" font-size="29" style="font-family:'DejaVu Sans',sans-serif;font-weight:200">→</tspan><tspan x="507.5" dy="-3.1"> 3</tspan></text>
</g>
</svg>
</body></html>
